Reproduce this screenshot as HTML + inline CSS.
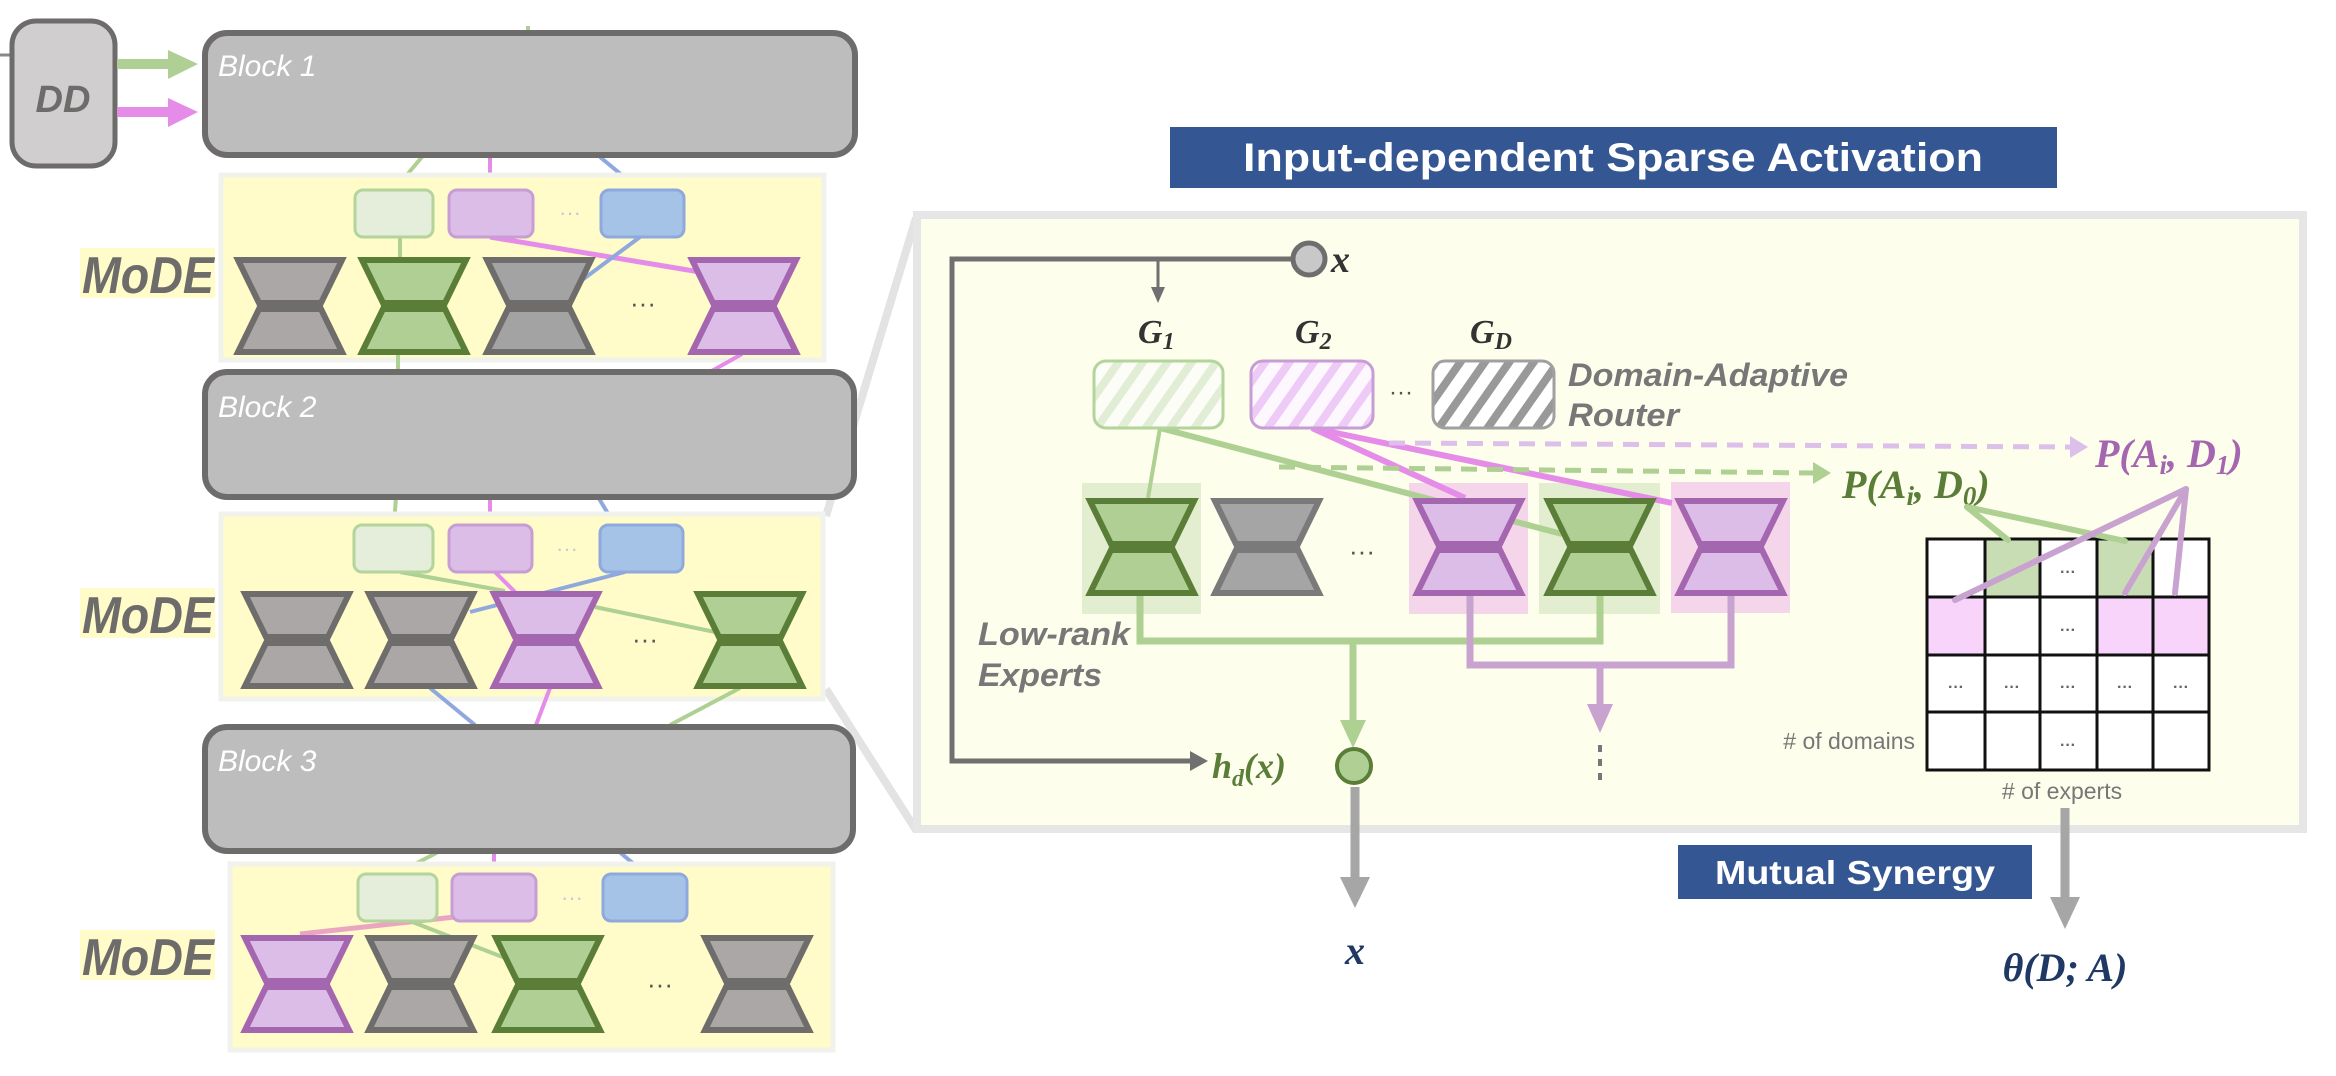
<!DOCTYPE html>
<html><head><meta charset="utf-8"><style>
html,body{margin:0;padding:0;background:#fff;}
svg{display:block;}
.bl{font-family:"Liberation Sans",sans-serif;font-style:italic;fill:#fff;font-size:30px;}
.nar{font-family:"Liberation Sans Narrow","Liberation Sans",sans-serif;}
.math{font-family:"Liberation Serif",serif;font-style:italic;font-weight:bold;}
.mode{font-family:"Liberation Sans",sans-serif;font-style:italic;font-weight:bold;font-size:52px;fill:#6e6b6b;}
</style></head><body>
<svg width="2336" height="1076" viewBox="0 0 2336 1076" xmlns="http://www.w3.org/2000/svg">
<defs>
<g id="hg">
<polygon points="3,3 107,3 86,46 24,46"/>
<polygon points="24,52 86,52 107,95 3,95"/>
</g>
<pattern id="pg" width="20" height="20" patternUnits="userSpaceOnUse" patternTransform="rotate(35)">
<rect width="20" height="20" fill="#fbfdf6"/><rect width="8" height="20" fill="#e2edd6"/></pattern>
<pattern id="pp" width="20" height="20" patternUnits="userSpaceOnUse" patternTransform="rotate(35)">
<rect width="20" height="20" fill="#fdf7fe"/><rect width="8" height="20" fill="#eecbf6"/></pattern>
<pattern id="pk" width="20" height="20" patternUnits="userSpaceOnUse" patternTransform="rotate(35)">
<rect width="20" height="20" fill="#fff"/><rect width="8" height="20" fill="#999"/></pattern>
</defs>

<line x1="826" y1="516" x2="916" y2="218" stroke="#e3e3e3" stroke-width="8"/>
<line x1="826" y1="689" x2="916" y2="830" stroke="#e3e3e3" stroke-width="8"/>

<line x1="0" y1="55" x2="12" y2="55" stroke="#888" stroke-width="3"/>
<rect x="12" y="21" width="103" height="145" rx="24" fill="#d0cecf" stroke="#6e6b6b" stroke-width="5"/>
<text x="63" y="112" text-anchor="middle" font-family="Liberation Sans,sans-serif" font-style="italic" font-weight="bold" font-size="38" fill="#6e6b6b">DD</text>
<polygon points="117,59 168,59 168,50 198,64 168,79 168,69 117,69" fill="#b0cf94"/>
<polygon points="117,107 168,107 168,98 198,112 168,127 168,117 117,117" fill="#e58ce8"/>
<line x1="528" y1="26" x2="528" y2="33" stroke="#aed093" stroke-width="4"/>

<g stroke-width="4" fill="none">
<line x1="422" y1="157" x2="394" y2="190" stroke="#aed093"/>
<line x1="490" y1="157" x2="490" y2="190" stroke="#e58ce8"/>
<line x1="600" y1="157" x2="640" y2="190" stroke="#8fa8dd"/>
</g>
<rect x="221" y="175" width="603" height="185" fill="#fffcc9" stroke="#f2f2ec" stroke-width="5"/>
<rect x="80" y="248" width="135" height="50" fill="#fffcc9"/>
<text x="82" y="293" class="mode" textLength="132" lengthAdjust="spacingAndGlyphs">MoDE</text>
<g stroke-width="4" fill="none">
<line x1="400" y1="237" x2="400" y2="257" stroke="#aed093"/>
<line x1="490" y1="237" x2="700" y2="272" stroke="#e58ce8" stroke-width="5"/>
<line x1="640" y1="237" x2="535" y2="315" stroke="#8fa8dd"/>
<line x1="398" y1="354" x2="398" y2="371" stroke="#aed093"/>
<line x1="742" y1="354" x2="710" y2="372" stroke="#e58ce8"/>
</g>
<rect x="355" y="190" width="78" height="47" rx="8" fill="#e4eedb" stroke="#b3d49a" stroke-width="3"/>
<rect x="449" y="190" width="84" height="47" rx="8" fill="#dbbde7" stroke="#c79ed3" stroke-width="3"/>
<rect x="601" y="190" width="83" height="47" rx="8" fill="#a4c3e6" stroke="#8fa8dd" stroke-width="3"/>
<text x="570" y="220" text-anchor="middle" font-size="22" fill="#c8c8d8" font-family="Liberation Sans,sans-serif">···</text>
<use href="#hg" x="235" y="257" fill="#aba7a6" stroke="#6f6c6c" stroke-width="6"/>
<use href="#hg" x="359" y="257" fill="#b0cf94" stroke="#5a7d37" stroke-width="6"/>
<use href="#hg" x="484" y="257" fill="#a3a3a3" stroke="#6f6c6c" stroke-width="6"/>
<use href="#hg" x="689" y="257" fill="#dbbde7" stroke="#a566b0" stroke-width="6"/>
<text x="643" y="312" text-anchor="middle" font-size="26" fill="#555" font-family="Liberation Sans,sans-serif">···</text>

<rect x="205" y="33" width="650" height="122" rx="22" fill="#bdbdbd" stroke="#6e6b6b" stroke-width="6"/>
<text x="218" y="76" class="bl">Block 1</text>

<g stroke-width="4" fill="none">
<line x1="396" y1="497" x2="394" y2="525" stroke="#aed093"/>
<line x1="490" y1="497" x2="490" y2="525" stroke="#e58ce8"/>
<line x1="598" y1="497" x2="615" y2="525" stroke="#8fa8dd"/>
</g>
<rect x="221" y="514" width="602" height="185" fill="#fffcc9" stroke="#f2f2ec" stroke-width="5"/>
<rect x="80" y="588" width="135" height="50" fill="#fffcc9"/>
<text x="82" y="633" class="mode" textLength="132" lengthAdjust="spacingAndGlyphs">MoDE</text>
<g stroke-width="4" fill="none">
<line x1="400" y1="572" x2="505" y2="591" stroke="#aed093"/>
<line x1="595" y1="607" x2="715" y2="632" stroke="#aed093"/>
<line x1="495" y1="572" x2="515" y2="592" stroke="#e58ce8"/>
<line x1="625" y1="572" x2="470" y2="612" stroke="#8fa8dd"/>
<line x1="430" y1="688" x2="475" y2="725" stroke="#8fa8dd"/>
<line x1="550" y1="688" x2="536" y2="725" stroke="#e58ce8"/>
<line x1="740" y1="688" x2="670" y2="725" stroke="#aed093"/>
</g>
<rect x="354" y="525" width="79" height="47" rx="8" fill="#e4eedb" stroke="#b3d49a" stroke-width="3"/>
<rect x="449" y="525" width="83" height="47" rx="8" fill="#dbbde7" stroke="#c79ed3" stroke-width="3"/>
<rect x="600" y="525" width="83" height="47" rx="8" fill="#a4c3e6" stroke="#8fa8dd" stroke-width="3"/>
<text x="567" y="556" text-anchor="middle" font-size="22" fill="#c8c8d8" font-family="Liberation Sans,sans-serif">···</text>
<use href="#hg" x="242" y="591" fill="#aba7a6" stroke="#6f6c6c" stroke-width="6"/>
<use href="#hg" x="366" y="591" fill="#aba7a6" stroke="#6f6c6c" stroke-width="6"/>
<use href="#hg" x="491" y="591" fill="#dbbde7" stroke="#a566b0" stroke-width="6"/>
<use href="#hg" x="695" y="591" fill="#b0cf94" stroke="#5a7d37" stroke-width="6"/>
<text x="645" y="648" text-anchor="middle" font-size="26" fill="#555" font-family="Liberation Sans,sans-serif">···</text>

<rect x="205" y="372" width="649" height="125" rx="22" fill="#bdbdbd" stroke="#6e6b6b" stroke-width="6"/>
<text x="218" y="417" class="bl">Block 2</text>

<g stroke-width="4" fill="none">
<line x1="442" y1="850" x2="396" y2="874" stroke="#aed093"/>
<line x1="494" y1="850" x2="494" y2="874" stroke="#e58ce8"/>
<line x1="617" y1="850" x2="646" y2="874" stroke="#8fa8dd"/>
</g>
<rect x="230" y="864" width="603" height="186" fill="#fffcc9" stroke="#f2f2ec" stroke-width="5"/>
<rect x="80" y="930" width="135" height="50" fill="#fffcc9"/>
<text x="82" y="975" class="mode" textLength="132" lengthAdjust="spacingAndGlyphs">MoDE</text>
<g stroke-width="4" fill="none">
<line x1="455" y1="917" x2="300" y2="934" stroke="#eaa6c0" stroke-width="5"/>
<line x1="410" y1="921" x2="505" y2="958" stroke="#aed093"/>
</g>
<rect x="358" y="874" width="79" height="47" rx="8" fill="#e4eedb" stroke="#b3d49a" stroke-width="3"/>
<rect x="452" y="874" width="84" height="47" rx="8" fill="#dbbde7" stroke="#c79ed3" stroke-width="3"/>
<rect x="603" y="874" width="84" height="47" rx="8" fill="#a4c3e6" stroke="#8fa8dd" stroke-width="3"/>
<text x="572" y="905" text-anchor="middle" font-size="22" fill="#c8c8d8" font-family="Liberation Sans,sans-serif">···</text>
<use href="#hg" x="242" y="935" fill="#dbbde7" stroke="#a566b0" stroke-width="6"/>
<use href="#hg" x="366" y="935" fill="#aba7a6" stroke="#6f6c6c" stroke-width="6"/>
<use href="#hg" x="493" y="935" fill="#b0cf94" stroke="#5a7d37" stroke-width="6"/>
<use href="#hg" x="702" y="935" fill="#aba7a6" stroke="#6f6c6c" stroke-width="6"/>
<text x="660" y="993" text-anchor="middle" font-size="26" fill="#555" font-family="Liberation Sans,sans-serif">···</text>

<rect x="205" y="727" width="648" height="124" rx="22" fill="#bdbdbd" stroke="#6e6b6b" stroke-width="6"/>
<text x="218" y="771" class="bl">Block 3</text>

<rect x="1170" y="127" width="887" height="61" fill="#345693"/>
<text x="1613" y="171" text-anchor="middle" font-family="Liberation Sans,sans-serif" font-weight="bold" font-size="40" fill="#fff" textLength="740" lengthAdjust="spacingAndGlyphs">Input-dependent Sparse Activation</text>

<rect x="917" y="215" width="1386" height="614" fill="#fefeec" stroke="#e6e6e6" stroke-width="8"/>

<polyline points="1292,259 952,259 952,761 1190,761" fill="none" stroke="#707070" stroke-width="5"/>
<polygon points="1190,751 1208,761 1190,771" fill="#707070"/>
<line x1="1158" y1="259" x2="1158" y2="290" stroke="#707070" stroke-width="3"/>
<polygon points="1151,287 1165,287 1158,303" fill="#707070"/>
<circle cx="1309" cy="259" r="16" fill="#c8c8c8" stroke="#6e6e6e" stroke-width="5"/>
<text x="1331" y="272" class="math" font-size="38" fill="#333">x</text>

<text x="1138" y="343" class="math" font-size="34" fill="#333">G<tspan font-size="24" dy="6">1</tspan></text>
<text x="1295" y="343" class="math" font-size="34" fill="#333">G<tspan font-size="24" dy="6">2</tspan></text>
<text x="1470" y="343" class="math" font-size="34" fill="#333">G<tspan font-size="24" dy="6">D</tspan></text>

<rect x="1082" y="483" width="119" height="131" fill="#e3edcf"/>
<rect x="1409" y="483" width="119" height="131" fill="#f4d5ea"/>
<rect x="1539" y="483" width="121" height="131" fill="#e3edcf"/>
<rect x="1671" y="482" width="119" height="131" fill="#f4d5ea"/>

<line x1="1160" y1="428" x2="1148" y2="498" stroke="#aed093" stroke-width="4"/>
<line x1="1160" y1="428" x2="1562" y2="534" stroke="#aed093" stroke-width="6"/>
<line x1="1312" y1="428" x2="1465" y2="498" stroke="#e58ce8" stroke-width="6"/>
<line x1="1312" y1="428" x2="1672" y2="503" stroke="#e58ce8" stroke-width="6"/>

<rect x="1094" y="361" width="129" height="67" rx="12" fill="url(#pg)" stroke="#b3d49a" stroke-width="3"/>
<rect x="1251" y="361" width="122" height="67" rx="12" fill="url(#pp)" stroke="#c79ed3" stroke-width="3"/>
<rect x="1433" y="361" width="121" height="67" rx="12" fill="url(#pk)" stroke="#a0a0a0" stroke-width="3"/>
<text x="1401" y="400" text-anchor="middle" font-size="24" fill="#555" font-family="Liberation Sans,sans-serif">···</text>
<text x="1568" y="386" class="nar" font-style="italic" font-weight="bold" font-size="32" fill="#777" textLength="280" lengthAdjust="spacingAndGlyphs">Domain-Adaptive</text>
<text x="1568" y="426" class="nar" font-style="italic" font-weight="bold" font-size="32" fill="#777" textLength="111" lengthAdjust="spacingAndGlyphs">Router</text>

<line x1="1389" y1="443" x2="2072" y2="447" stroke="#dcc0ea" stroke-width="5" stroke-dasharray="16,10"/>
<polygon points="2070,436 2088,447 2070,458" fill="#dcc0ea"/>
<line x1="1279" y1="467" x2="1815" y2="473" stroke="#aed093" stroke-width="5" stroke-dasharray="16,10"/>
<polygon points="1813,462 1831,473 1813,484" fill="#aed093"/>

<use href="#hg" x="1087" y="498" fill="#b0cf94" stroke="#5a7d37" stroke-width="6"/>
<use href="#hg" x="1212" y="498" fill="#a5a5a5" stroke="#7a7a7a" stroke-width="6"/>
<use href="#hg" x="1414" y="498" fill="#dbbde7" stroke="#a566b0" stroke-width="6"/>
<use href="#hg" x="1545" y="498" fill="#b0cf94" stroke="#5a7d37" stroke-width="6"/>
<use href="#hg" x="1676" y="498" fill="#dbbde7" stroke="#a566b0" stroke-width="6"/>
<text x="1362" y="560" text-anchor="middle" font-size="26" fill="#555" font-family="Liberation Sans,sans-serif">···</text>

<polyline points="1140,596 1140,641 1600,641 1600,596" fill="none" stroke="#aed093" stroke-width="7"/>
<line x1="1353" y1="641" x2="1353" y2="725" stroke="#aed093" stroke-width="7"/>
<polygon points="1340,720 1366,720 1353,748" fill="#aed093"/>
<polyline points="1470,596 1470,665 1731,665 1731,596" fill="none" stroke="#c9a3cf" stroke-width="7"/>
<line x1="1600" y1="665" x2="1600" y2="710" stroke="#c9a3cf" stroke-width="7"/>
<polygon points="1587,704 1613,704 1600,733" fill="#c9a3cf"/>
<line x1="1600" y1="745" x2="1600" y2="781" stroke="#777" stroke-width="4" stroke-dasharray="7,7"/>

<text x="978" y="645" class="nar" font-style="italic" font-weight="bold" font-size="32" fill="#777" textLength="152" lengthAdjust="spacingAndGlyphs">Low-rank</text>
<text x="978" y="686" class="nar" font-style="italic" font-weight="bold" font-size="32" fill="#777" textLength="124" lengthAdjust="spacingAndGlyphs">Experts</text>

<text x="1212" y="778" class="math" font-size="36" fill="#5a7d37">h<tspan font-size="24" dy="8">d</tspan><tspan dy="-8">(x)</tspan></text>
<circle cx="1354" cy="766" r="17" fill="#b0cf94" stroke="#5a7d37" stroke-width="4"/>
<line x1="1355" y1="787" x2="1355" y2="880" stroke="#a6a6a6" stroke-width="9"/>
<polygon points="1340,877 1370,877 1355,908" fill="#a6a6a6"/>
<text x="1355" y="964" text-anchor="middle" class="math" font-size="40" fill="#1f3864">x</text>

<text x="1842" y="498" class="math" font-size="40" fill="#5a7d37">P(A<tspan font-size="27" dy="7">i</tspan><tspan dy="-7">, D</tspan><tspan font-size="27" dy="7">0</tspan><tspan dy="-7">)</tspan></text>
<text x="2095" y="467" class="math" font-size="40" fill="#a566b0">P(A<tspan font-size="27" dy="7">i</tspan><tspan dy="-7">, D</tspan><tspan font-size="27" dy="7">1</tspan><tspan dy="-7">)</tspan></text>

<rect x="1927" y="539" width="282" height="231" fill="#fff"/>
<rect x="1985" y="539" width="55" height="58" fill="#c9ddb5"/>
<rect x="2097" y="539" width="56" height="58" fill="#c9ddb5"/>
<rect x="1927" y="597" width="58" height="58" fill="#f8d3fa"/>
<rect x="2097" y="597" width="112" height="58" fill="#f8d3fa"/>
<g stroke="#111" stroke-width="3" fill="none">
<rect x="1927" y="539" width="282" height="231"/>
<line x1="1985" y1="539" x2="1985" y2="770"/><line x1="2040" y1="539" x2="2040" y2="770"/>
<line x1="2097" y1="539" x2="2097" y2="770"/><line x1="2153" y1="539" x2="2153" y2="770"/>
<line x1="1927" y1="597" x2="2209" y2="597"/><line x1="1927" y1="655" x2="2209" y2="655"/><line x1="1927" y1="712" x2="2209" y2="712"/>
</g>
<g font-family="Liberation Sans,sans-serif" font-size="16" fill="#666" text-anchor="middle" font-weight="bold">
<text x="2068" y="577">···</text><text x="2068" y="635">···</text>
<text x="1956" y="692">···</text><text x="2012" y="692">···</text><text x="2068" y="692">···</text><text x="2125" y="692">···</text><text x="2181" y="692">···</text>
<text x="2068" y="750">···</text>
</g>
<g stroke-width="6" stroke-linecap="round">
<line x1="1967" y1="507" x2="2008" y2="540" stroke="#aed093"/>
<line x1="1967" y1="507" x2="2125" y2="541" stroke="#aed093"/>
<line x1="2186" y1="489" x2="1955" y2="600" stroke="#c9a3cf"/>
<line x1="2186" y1="489" x2="2125" y2="593" stroke="#c9a3cf"/>
<line x1="2186" y1="489" x2="2175" y2="593" stroke="#c9a3cf"/>
</g>
<text x="1915" y="749" text-anchor="end" class="nar" font-size="23" fill="#777">#  of domains</text>
<text x="2062" y="799" text-anchor="middle" class="nar" font-size="23" fill="#777"># of experts</text>

<line x1="2065" y1="808" x2="2065" y2="900" stroke="#a6a6a6" stroke-width="9"/>
<polygon points="2050,897 2080,897 2065,929" fill="#a6a6a6"/>
<rect x="1678" y="845" width="354" height="54" fill="#345693"/>
<text x="1855" y="884" text-anchor="middle" font-family="Liberation Sans,sans-serif" font-weight="bold" font-size="33" fill="#fff" textLength="280" lengthAdjust="spacingAndGlyphs">Mutual Synergy</text>
<text x="2065" y="981" text-anchor="middle" class="math" font-size="40" fill="#1f3864">θ(D; A)</text>
</svg>
</body></html>
